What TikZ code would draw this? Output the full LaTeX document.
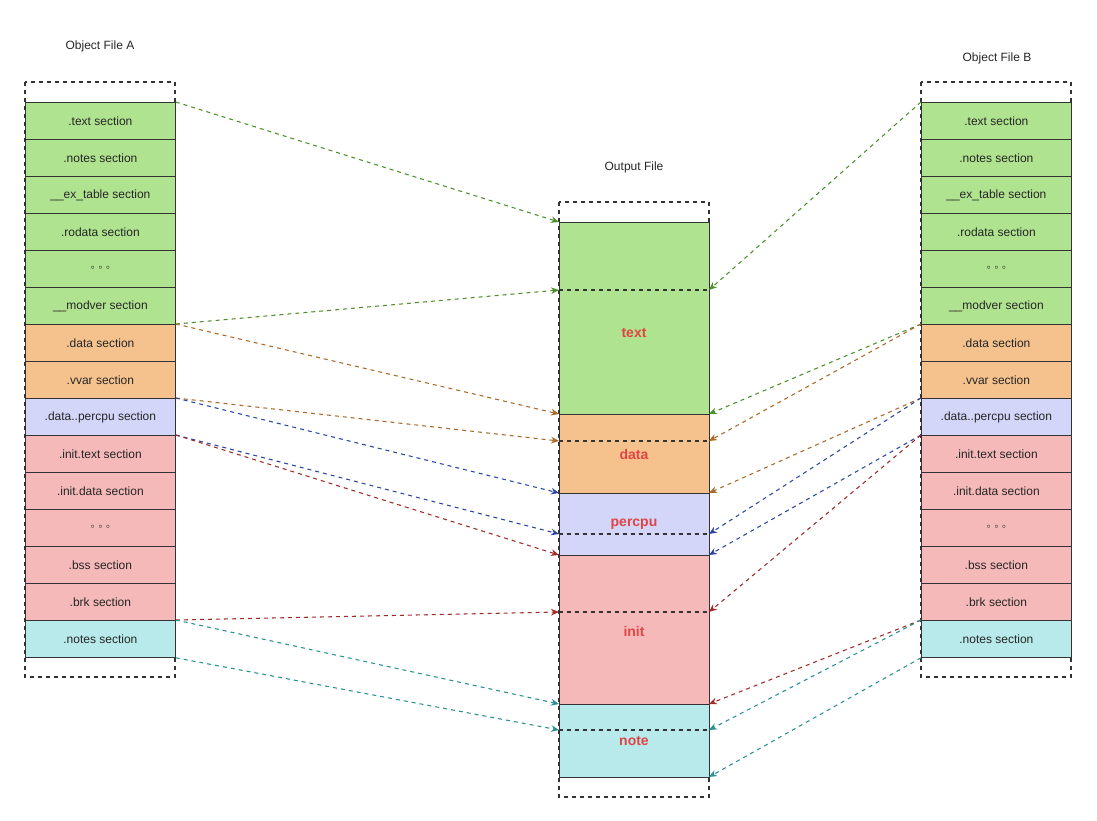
\documentclass[tikz,border=0pt]{standalone}
\usepackage{fontspec}
\setmainfont{Liberation Sans}
\usetikzlibrary{arrows.meta}
\definecolor{cg}{HTML}{B0E38F}
\definecolor{co}{HTML}{F5C28D}
\definecolor{cl}{HTML}{D3D6F8}
\definecolor{cp}{HTML}{F5B9B9}
\definecolor{cc}{HTML}{B8EAEB}
\definecolor{agr}{HTML}{4E8F2A}
\definecolor{abr}{HTML}{A86A2A}
\definecolor{abl}{HTML}{2B45A0}
\definecolor{ard}{HTML}{A02A2A}
\definecolor{atl}{HTML}{2A9090}
\definecolor{lab}{HTML}{E04545}
\begin{document}
\begin{tikzpicture}[x=0.75pt,y=-0.75pt,
  row/.style={draw=black!80,line width=0.6pt,minimum width=112.5pt,minimum height=27.75pt,inner sep=0pt,anchor=north west,font=\fontsize{9}{11}\selectfont,text=black!85},
  frame/.style={draw=black!80,dashed,line width=0.8pt},
  conn/.style={dashed,line width=0.8pt,-{Stealth[length=6pt,width=5pt]}},
  sec/.style={draw=black!80,line width=0.6pt},
  seclab/.style={font=\fontsize{10.5}{12}\bfseries\selectfont,text=lab},
  ttl/.style={font=\fontsize{9}{11}\selectfont,text=black!85}]
\useasboundingbox (0,0) rectangle (1097,821);
\node[ttl] (tA) at (100,46) {Object File A};
\node[ttl] (tB) at (997,58) {Object File B};
\node[ttl] (tO) at (634,167) {Output File};
\draw[frame] (25,82) rectangle (175,677);
\draw[frame] (921,82) rectangle (1071,677);
\draw[frame] (559,202) rectangle (709,797);
\foreach \s/\t/\c [count=\i] in {a/.text section/cg,b/.notes section/cg,c/\_\_ex\_table section/cg,d/.rodata section/cg,e/{\textopenbullet\ \textopenbullet\ \textopenbullet}/cg,f/\_\_modver section/cg,g/.data section/co,h/.vvar section/co,k/.data..percpu section/cl,l/.init.text section/cp,m/.init.data section/cp,n/{\textopenbullet\ \textopenbullet\ \textopenbullet}/cp,o/.bss section/cp,p/.brk section/cp,q/.notes section/cc}{
  \node[row,fill=\c] (A\i) at (25,{102+37*(\i-1)}) {\t};
  \node[row,fill=\c] (B\i) at (921,{102+37*(\i-1)}) {\t};
}
\fill[cg] (559,222) rectangle (709,414);
\fill[co] (559,414) rectangle (709,493);
\fill[cl] (559,493) rectangle (709,555);
\fill[cp] (559,555) rectangle (709,704);
\fill[cc] (559,704) rectangle (709,777);
\draw[sec] (559,222) rectangle (709,777);
\foreach \y in {414,493,555,704} \draw[sec] (559,\y) -- (709,\y);
\foreach \y in {290,441,534,612,730} \draw[frame] (559,\y) -- (709,\y);
\node[seclab] (lt) at (634,333) {text};
\node[seclab] (ld) at (634,454) {data};
\node[seclab] (lp) at (634,524) {percpu};
\node[seclab] (li) at (634,631) {init};
\node[seclab] (ln) at (634,741) {note};
\foreach \n/\y in {1/222,2/290,3/414,4/441,5/493,6/534,7/555,8/612,9/704,10/730,11/777}{
  \coordinate (L\n) at (559,\y); \coordinate (R\n) at (709,\y);}
\draw[conn,agr] (A1.north east) -- (L1);
\draw[conn,agr] (A7.north east) -- (L2);
\draw[conn,abr] (A7.north east) -- (L3);
\draw[conn,abr] (A9.north east) -- (L4);
\draw[conn,abl] (A9.north east) -- (L5);
\draw[conn,abl] (A10.north east) -- (L6);
\draw[conn,ard] (A10.north east) -- (L7);
\draw[conn,ard] (A15.north east) -- (L8);
\draw[conn,atl] (A15.north east) -- (L9);
\draw[conn,atl] (A15.south east) -- (L10);
\draw[conn,agr] (B1.north west) -- (R2);
\draw[conn,agr] (B7.north west) -- (R3);
\draw[conn,abr] (B7.north west) -- (R4);
\draw[conn,abr] (B9.north west) -- (R5);
\draw[conn,abl] (B9.north west) -- (R6);
\draw[conn,abl] (B10.north west) -- (R7);
\draw[conn,ard] (B10.north west) -- (R8);
\draw[conn,ard] (B15.north west) -- (R9);
\draw[conn,atl] (B15.north west) -- (R10);
\draw[conn,atl] (B15.south west) -- (R11);
\end{tikzpicture}
\end{document}
